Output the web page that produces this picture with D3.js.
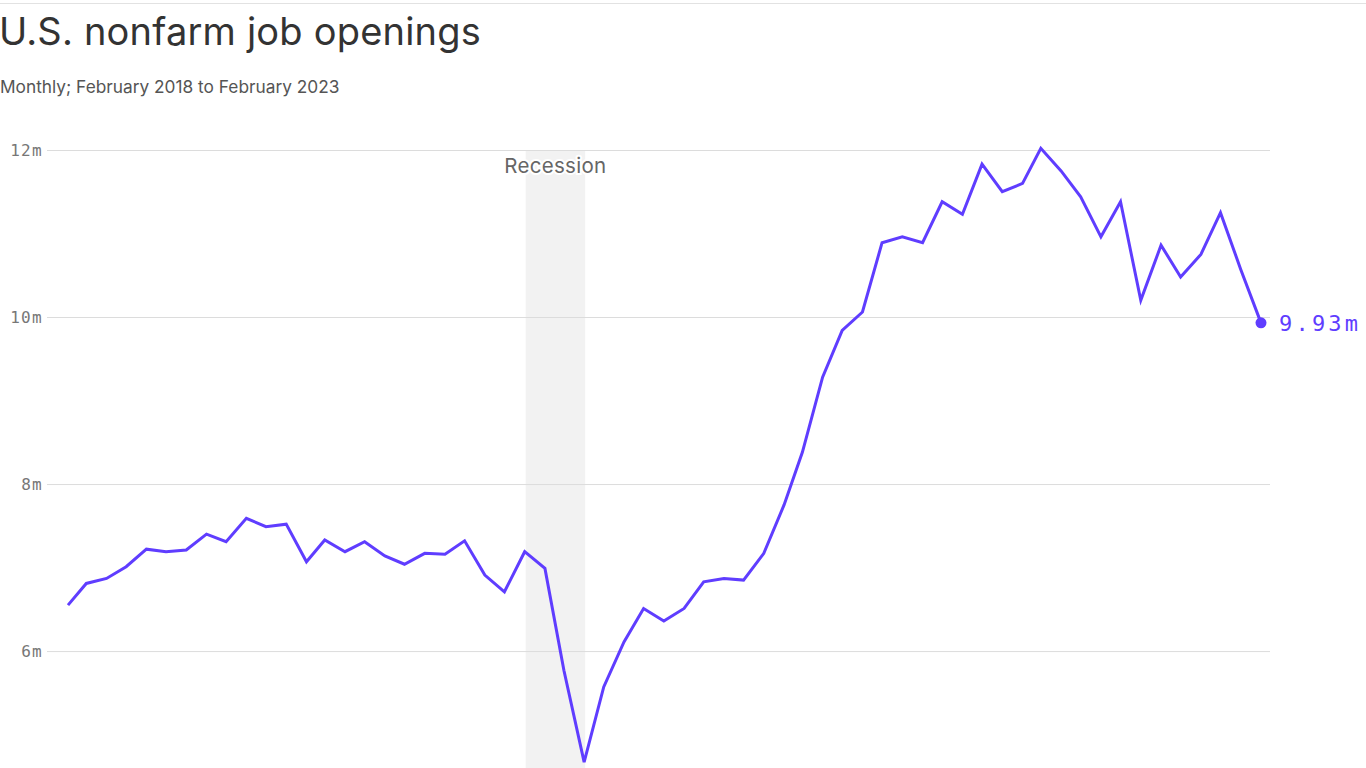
<!DOCTYPE html>
<html>
<head>
<meta charset="utf-8">
<script src="https://cdn.jsdelivr.net/npm/d3@7"></script>
<style>
  html, body { margin: 0; padding: 0; background: #fff; }
  svg { display: block; }
</style>
</head>
<body>
<svg id="chart" width="1366" height="768"></svg>
<script>
const titleText = "U.S. nonfarm job openings";
const subtitleText = "Monthly; February 2018 to February 2023";

const months = [
  "2018-02","2018-03","2018-04","2018-05","2018-06","2018-07","2018-08","2018-09","2018-10","2018-11","2018-12",
  "2019-01","2019-02","2019-03","2019-04","2019-05","2019-06","2019-07","2019-08","2019-09","2019-10","2019-11","2019-12",
  "2020-01","2020-02","2020-03","2020-04","2020-05","2020-06","2020-07","2020-08","2020-09","2020-10","2020-11","2020-12",
  "2021-01","2021-02","2021-03","2021-04","2021-05","2021-06","2021-07","2021-08","2021-09","2021-10","2021-11","2021-12",
  "2022-01","2022-02","2022-03","2022-04","2022-05","2022-06","2022-07","2022-08","2022-09","2022-10","2022-11","2022-12",
  "2023-01","2023-02"
];

// Job openings, millions
const openings = [
  6.55, 6.81, 6.87, 7.01, 7.22, 7.19, 7.21, 7.40, 7.31, 7.59, 7.49,
  7.52, 7.07, 7.33, 7.19, 7.31, 7.14, 7.04, 7.17, 7.16, 7.32, 6.91, 6.71,
  7.19, 6.99, 5.77, 4.67, 5.57, 6.11, 6.51, 6.36, 6.51, 6.83, 6.87, 6.85,
  7.17, 7.75, 8.38, 9.28, 9.84, 10.06, 10.89, 10.96, 10.89, 11.38, 11.23, 11.83,
  11.50, 11.60, 12.02, 11.75, 11.44, 10.96, 11.38, 10.20, 10.86, 10.48, 10.75, 11.25,
  10.57, 9.93
];

const yTicks = [6, 8, 10, 12];
const yTickLabels = ["6m", "8m", "10m", "12m"];

const recession = { start: "2020-01", end: "2020-04", label: "Recession" };
const lastLabel = "9.93m";

const purple = "#5f3dff";
const parse = d3.timeParse("%Y-%m");
const data = months.map((m, i) => ({ date: parse(m), value: openings[i] }));

const svg = d3.select("#chart");

const x = d3.scaleTime()
  .domain(d3.extent(data, d => d.date))
  .range([68, 1261]);
const y = d3.scaleLinear()
  .domain([4.6, 12])
  .range([768, 150]);

// top border
svg.append("line")
  .attr("x1", 0).attr("x2", 1366).attr("y1", 3.5).attr("y2", 3.5)
  .attr("stroke", "#e2e2e2").attr("stroke-width", 1);

// title & subtitle
svg.append("text")
  .attr("x", -1).attr("y", 45)
  .attr("font-family", "Inter, 'Open Sans', sans-serif")
  .attr("font-size", 38).attr("font-weight", 400)
  .attr("letter-spacing", 0.2)
  .attr("fill", "#333")
  .text(titleText);
svg.append("text")
  .attr("x", 0).attr("y", 93)
  .attr("font-family", "Inter, 'Open Sans', sans-serif")
  .attr("font-size", 17.3)
  .attr("fill", "#555")
  .text(subtitleText);

// recession shading
svg.append("rect")
  .attr("x", x(parse(recession.start)) + 1)
  .attr("width", x(parse(recession.end)) - x(parse(recession.start)))
  .attr("y", y(12))
  .attr("height", 768 - y(12))
  .attr("fill", "#f2f2f2");

// y axis via d3.axisLeft
const yAxis = d3.axisLeft(y)
  .tickValues(yTicks)
  .tickFormat((d, i) => yTickLabels[i])
  .tickSize(-(1270 - 47))
  .tickPadding(5);

const gy = svg.append("g")
  .attr("transform", "translate(47,0)")
  .call(yAxis);
gy.select(".domain").remove();
gy.selectAll(".tick line").attr("stroke", "#dcdcdc").attr("stroke-width", 1);
gy.selectAll(".tick text")
  .attr("font-family", "'DejaVu Sans Mono', monospace")
  .attr("font-size", 16)
  .attr("letter-spacing", 1.3)
  .attr("fill", "#777")
  .attr("x", -4);

// recession label with white halo
svg.append("text")
  .attr("x", (x(parse(recession.start)) + x(parse(recession.end))) / 2 + 1)
  .attr("y", 173)
  .attr("text-anchor", "middle")
  .attr("font-family", "Inter, 'Open Sans', sans-serif")
  .attr("font-size", 20.5)
  .attr("letter-spacing", 0.3)
  .attr("fill", "#666")
  .attr("stroke", "#fff").attr("stroke-width", 4)
  .attr("paint-order", "stroke")
  .text(recession.label);

// line
const line = d3.line().x(d => x(d.date)).y(d => y(d.value));
svg.append("path")
  .datum(data)
  .attr("d", line)
  .attr("fill", "none")
  .attr("stroke", purple)
  .attr("stroke-width", 3)
  .attr("stroke-linejoin", "miter");

// end dot & label
const last = data[data.length - 1];
svg.append("circle")
  .attr("cx", x(last.date)).attr("cy", y(last.value))
  .attr("r", 5.5).attr("fill", purple);
svg.append("text")
  .attr("x", x(last.date) + 18).attr("y", y(last.value) + 8)
  .attr("font-family", "'DejaVu Sans Mono', monospace")
  .attr("font-size", 22)
  .attr("letter-spacing", 3.2)
  .attr("fill", purple)
  .text(lastLabel);
</script>
</body>
</html>
